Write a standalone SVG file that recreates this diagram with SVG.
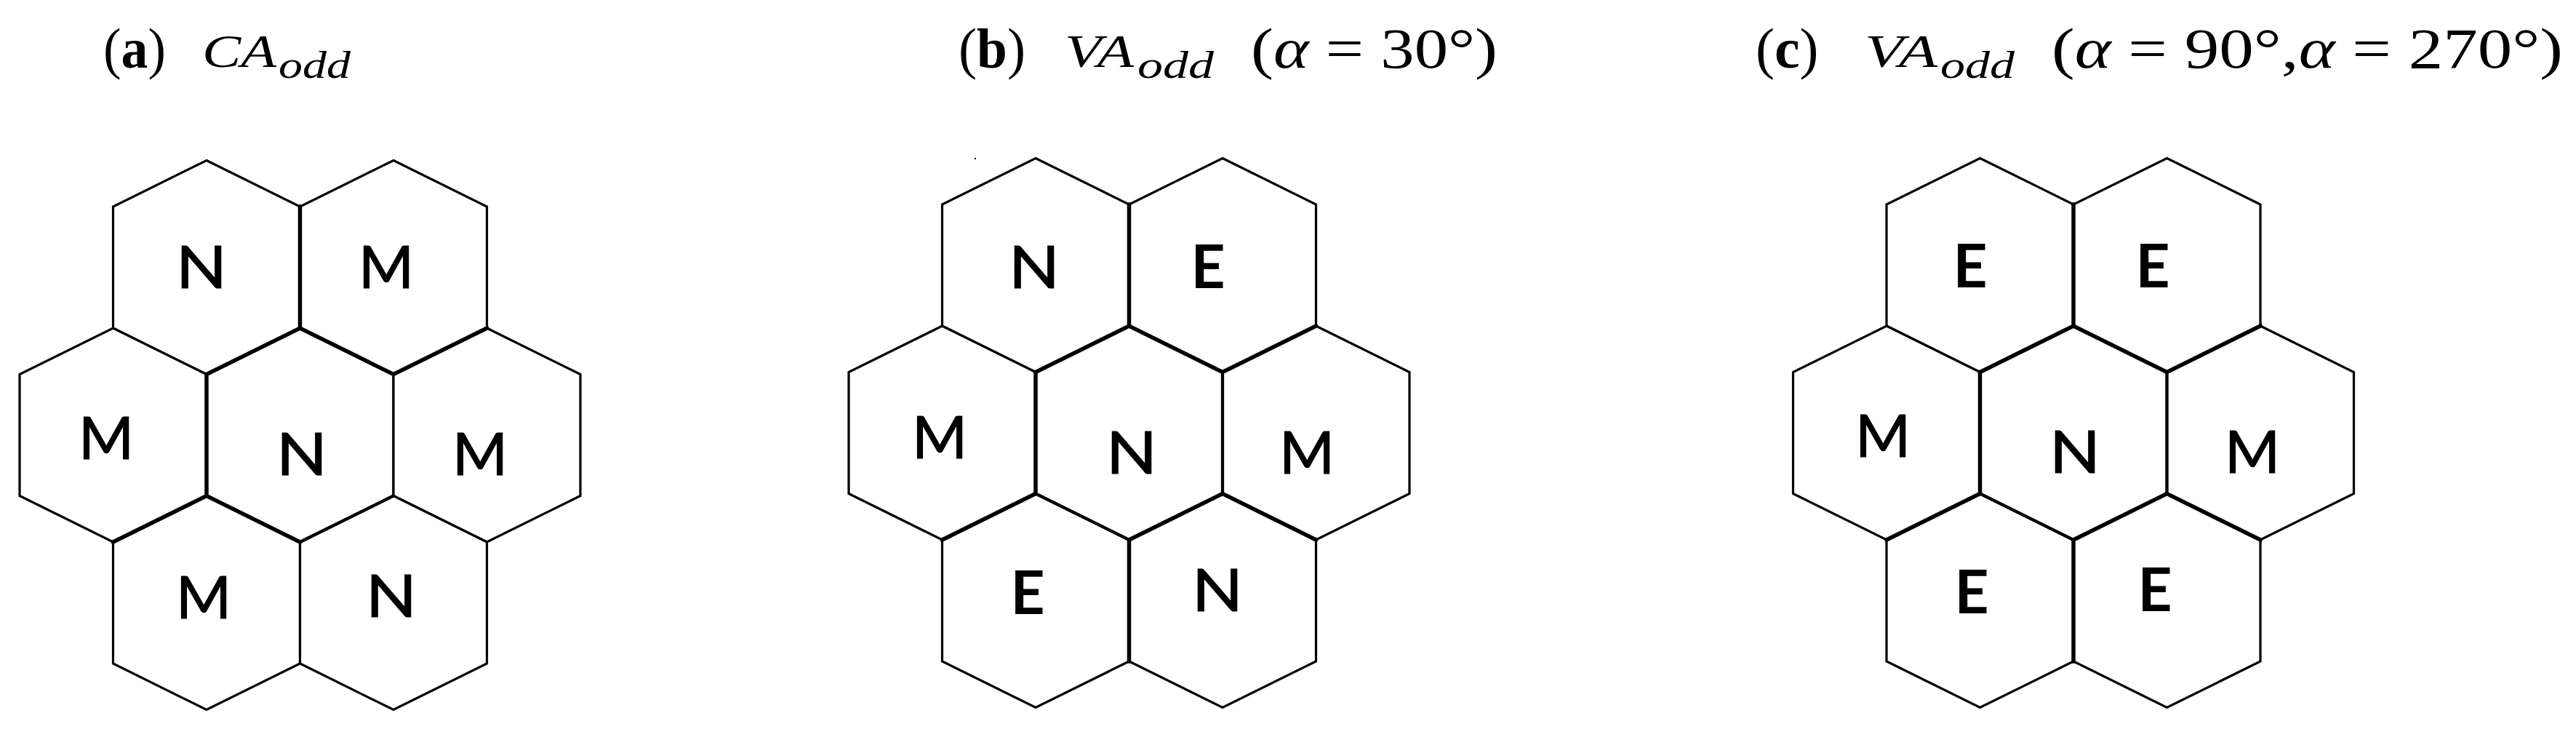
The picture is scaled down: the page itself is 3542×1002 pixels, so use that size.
<svg xmlns="http://www.w3.org/2000/svg" xmlns:xlink="http://www.w3.org/1999/xlink" width="3542" height="1002" viewBox="0 0 3542 1002">
<style>
.hex{fill:#fff;stroke:#000;stroke-width:3.2;stroke-linejoin:miter}
.thick{fill:none;stroke:#000;stroke-width:5.5;stroke-linecap:square}
.med{fill:none;stroke:#000;stroke-width:4.3;stroke-linecap:square}
.lbl{font-family:Lato,"Open Sans","DejaVu Sans",sans-serif;font-size:82px;text-anchor:middle;fill:#000;stroke:#000;stroke-width:1.2}
.e{font-weight:bold;stroke-width:0}
.ttl{font-family:"Liberation Serif","DejaVu Serif",serif;font-size:78px;fill:#000}
.it{font-family:"Liberation Serif","DejaVu Serif",serif;font-style:italic;fill:#000}
</style>
<defs>
<polygon id="hex" points="0,-147 128.5,-83.5 128.5,83.5 0,147 -128.5,83.5 -128.5,-83.5"/>
</defs>
<rect width="3542" height="1002" fill="#fff"/>

<!-- Titles -->
<g id="title-a">
<text class="ttl" x="142" y="93" textLength="86" lengthAdjust="spacingAndGlyphs">(<tspan font-weight="bold">a</tspan>)</text>
<text class="it" x="278" y="92" font-size="64" textLength="102" lengthAdjust="spacingAndGlyphs">CA</text>
<text class="it" x="383" y="107" font-size="52" textLength="99" lengthAdjust="spacingAndGlyphs">odd</text>
</g>
<g id="title-b">
<text class="ttl" x="1318" y="93" textLength="92" lengthAdjust="spacingAndGlyphs">(<tspan font-weight="bold">b</tspan>)</text>
<text class="it" x="1464" y="92" font-size="64" textLength="95" lengthAdjust="spacingAndGlyphs">VA</text>
<text class="it" x="1564" y="107" font-size="52" textLength="105" lengthAdjust="spacingAndGlyphs">odd</text>
<text class="ttl" x="1720" y="93" textLength="339" lengthAdjust="spacingAndGlyphs">(<tspan font-style="italic">α</tspan> = 30°)</text>
</g>
<g id="title-c">
<text class="ttl" x="2414" y="93">(<tspan font-weight="bold">c</tspan>)</text>
<text class="it" x="2564" y="92" font-size="64" textLength="100" lengthAdjust="spacingAndGlyphs">VA</text>
<text class="it" x="2668" y="107" font-size="52" textLength="102" lengthAdjust="spacingAndGlyphs">odd</text>
<text class="ttl" x="2821" y="93" textLength="703" lengthAdjust="spacingAndGlyphs">(<tspan font-style="italic">α</tspan> = 90°,<tspan font-style="italic">α</tspan> = 270°)</text>
</g>

<!-- Panel (a) -->
<g id="panel-a">
<g id="a-tl"><use xlink:href="#hex" href="#hex" class="hex" transform="translate(284,367.5)"/><text class="lbl" x="277" y="396" textLength="70" lengthAdjust="spacingAndGlyphs">N</text></g>
<g id="a-tr"><use xlink:href="#hex" href="#hex" class="hex" transform="translate(541,367.5)"/><text class="lbl" x="531" y="396">M</text></g>
<g id="a-ml"><use xlink:href="#hex" href="#hex" class="hex" transform="translate(155.5,598)"/><text class="lbl" x="146" y="631">M</text></g>
<g id="a-c"><use xlink:href="#hex" href="#hex" class="hex" transform="translate(412.5,598)"/><text class="lbl" x="415" y="653" textLength="70" lengthAdjust="spacingAndGlyphs">N</text></g>
<g id="a-mr"><use xlink:href="#hex" href="#hex" class="hex" transform="translate(669.5,598)"/><text class="lbl" x="660" y="653">M</text></g>
<g id="a-bl"><use xlink:href="#hex" href="#hex" class="hex" transform="translate(284,828.5)"/><text class="lbl" x="280" y="850">M</text></g>
<g id="a-br"><use xlink:href="#hex" href="#hex" class="hex" transform="translate(541,828.5)"/><text class="lbl" x="538" y="848" textLength="70" lengthAdjust="spacingAndGlyphs">N</text></g>
</g>

<!-- Panel (b) -->
<g id="panel-b">
<g id="b-tl"><use xlink:href="#hex" href="#hex" class="hex" transform="translate(1424,364.5)"/><text class="lbl" x="1422" y="396" textLength="70" lengthAdjust="spacingAndGlyphs">N</text></g>
<g id="b-tr"><use xlink:href="#hex" href="#hex" class="hex" transform="translate(1681,364.5)"/><text class="lbl e" x="1661" y="396">E</text></g>
<g id="b-ml"><use xlink:href="#hex" href="#hex" class="hex" transform="translate(1295.5,595)"/><text class="lbl" x="1292" y="630">M</text></g>
<g id="b-c"><use xlink:href="#hex" href="#hex" class="hex" transform="translate(1552.5,595)"/><text class="lbl" x="1556" y="651" textLength="70" lengthAdjust="spacingAndGlyphs">N</text></g>
<g id="b-mr"><use xlink:href="#hex" href="#hex" class="hex" transform="translate(1809.5,595)"/><text class="lbl" x="1797" y="651">M</text></g>
<g id="b-bl"><use xlink:href="#hex" href="#hex" class="hex" transform="translate(1424,825.5)"/><text class="lbl e" x="1413" y="844">E</text></g>
<g id="b-br"><use xlink:href="#hex" href="#hex" class="hex" transform="translate(1681,825.5)"/><text class="lbl" x="1674" y="840" textLength="70" lengthAdjust="spacingAndGlyphs">N</text></g>
<rect x="1340" y="217" width="2" height="2" fill="#000"/>
</g>

<!-- Panel (c) -->
<g id="panel-c">
<g id="c-tl"><use xlink:href="#hex" href="#hex" class="hex" transform="translate(2722.5,364.5)"/><text class="lbl e" x="2709" y="395">E</text></g>
<g id="c-tr"><use xlink:href="#hex" href="#hex" class="hex" transform="translate(2979.5,364.5)"/><text class="lbl e" x="2960" y="395">E</text></g>
<g id="c-ml"><use xlink:href="#hex" href="#hex" class="hex" transform="translate(2594,595)"/><text class="lbl" x="2589" y="628">M</text></g>
<g id="c-c"><use xlink:href="#hex" href="#hex" class="hex" transform="translate(2851,595)"/><text class="lbl" x="2853" y="650" textLength="70" lengthAdjust="spacingAndGlyphs">N</text></g>
<g id="c-mr"><use xlink:href="#hex" href="#hex" class="hex" transform="translate(3108,595)"/><text class="lbl" x="3097" y="650">M</text></g>
<g id="c-bl"><use xlink:href="#hex" href="#hex" class="hex" transform="translate(2722.5,825.5)"/><text class="lbl e" x="2711" y="843">E</text></g>
<g id="c-br"><use xlink:href="#hex" href="#hex" class="hex" transform="translate(2979.5,825.5)"/><text class="lbl e" x="2963" y="840">E</text></g>
</g>

<!-- Emphasised shared edges -->
<g id="edges">
<g transform="translate(412.5,598)">
<path class="thick" d="M0,-314V-147M-128.5,-83.5L0,-147L128.5,-83.5L257,-147M-128.5,-83.5V83.5M-257,147L-128.5,83.5L0,147"/>
<path class="med" d="M0,147L128.5,83.5"/>
</g>
<g transform="translate(1552.5,595)">
<path class="thick" d="M0,-314V-147M-128.5,-83.5L0,-147L128.5,-83.5L257,-147M-128.5,-83.5V83.5M-257,147L-128.5,83.5M0,147L128.5,83.5L257,147M0,147V314"/>
<path class="med" d="M128.5,-83.5V83.5M-128.5,83.5L0,147"/>
</g>
<g transform="translate(2851,595)">
<path class="thick" d="M0,-314V-147M-128.5,-83.5L0,-147L128.5,-83.5L257,-147M-128.5,-83.5V83.5M-257,147L-128.5,83.5M0,147L128.5,83.5L257,147M0,147V314"/>
<path class="med" d="M128.5,-83.5V83.5M-128.5,83.5L0,147"/>
</g>
</g>
</svg>
